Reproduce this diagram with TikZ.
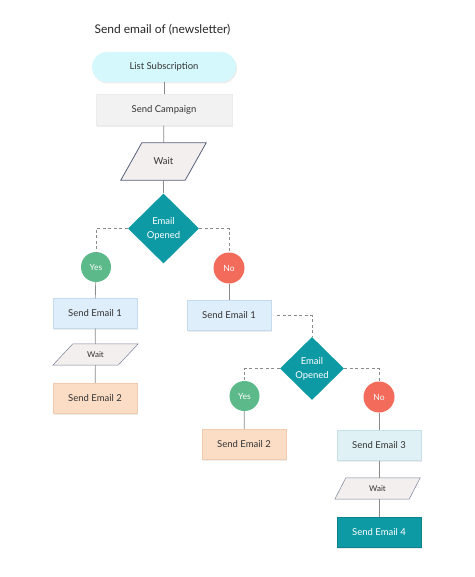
\documentclass[tikz,border=0pt]{standalone}
\usepackage{fontspec}
\setmainfont{Lato}
\usetikzlibrary{shapes.geometric,shadows}
\definecolor{pillfill}{HTML}{D4F8FC}
\definecolor{campfill}{HTML}{F2F2F2}
\definecolor{waitfill}{HTML}{F3EFEE}
\definecolor{waitline}{HTML}{56607A}
\definecolor{blueA}{HTML}{DFEEFB}
\definecolor{blueAline}{HTML}{C6DAEE}
\definecolor{peach}{HTML}{FBDCC4}
\definecolor{peachline}{HTML}{F0CBB0}
\definecolor{blueB}{HTML}{DFF1F5}
\definecolor{blueBline}{HTML}{C7E0E7}
\definecolor{teal}{HTML}{0E9AA5}
\definecolor{yesg}{HTML}{5CB98A}
\definecolor{nor}{HTML}{F26B5B}
\definecolor{linec}{HTML}{8A8A8A}
\tikzset{
  x=1pt,y=-1pt,
  every node/.style={font=\fontsize{9.5}{11}\selectfont, text=black!80},
  sh/.style={drop shadow={shadow xshift=1pt,shadow yshift=-1.5pt,opacity=0.15}},
  pill/.style={rectangle,rounded corners=15pt,minimum width=144pt,minimum height=30pt,fill=pillfill,sh},
  boxA/.style={rectangle,minimum width=136pt,minimum height=31pt,fill=campfill,draw=black!8,sh},
  boxE/.style={rectangle,minimum width=84pt,minimum height=30pt,sh},
  waitbox/.style={rectangle,inner sep=0pt},
  waitshape/.style={fill=waitfill,draw=waitline,line width=0.8pt},
  waitshapesm/.style={fill=waitfill,draw=waitline!80,line width=0.5pt},
  dec/.style={diamond,aspect=1,fill=teal,text=white,align=center,inner sep=0pt,font=\fontsize{9.5}{14}\selectfont},
  yes/.style={circle,fill=yesg,text=white,minimum size=30pt,inner sep=0pt,font=\fontsize{8.5}{10}\selectfont},
  no/.style={circle,fill=nor,text=white,minimum size=31pt,inner sep=0pt,font=\fontsize{8.5}{10}\selectfont},
  conn/.style={draw=linec,line width=0.7pt},
  dconn/.style={draw=linec,line width=0.7pt,dash pattern=on 3pt off 2.5pt},
}
\newcommand{\parallelo}[3]{%
  \path[#3] ([xshift=#2]#1.north west) -- (#1.north east) -- ([xshift=-#2]#1.south east) -- (#1.south west) -- cycle;}
\begin{document}
\begin{tikzpicture}
\useasboundingbox (0,0) rectangle (474,577);
\node[font=\fontsize{12}{14}\selectfont,text=black!85] (title) at (162.5,30) {Send email of (newsletter)};
\node[pill] (list) at (164,67) {List Subscription};
\node[boxA] (camp) at (164,110) {Send Campaign};
\node[waitbox,minimum width=85pt,minimum height=37pt] (wait) at (163.5,161.5) {};
\node[waitbox,minimum width=85pt,minimum height=21pt] (w2) at (95.5,354.5) {};
\node[waitbox,minimum width=85pt,minimum height=21pt] (w3) at (377.5,488.5) {};
\parallelo{wait}{21pt}{waitshape}
\parallelo{w2}{20pt}{waitshapesm}
\parallelo{w3}{11pt}{waitshapesm}
\node at (wait.center) {Wait};
\node[font=\fontsize{8}{9}\selectfont] at (w2.center) {Wait};
\node[font=\fontsize{8}{9}\selectfont] at (w3.center) {Wait};
\node[dec,minimum width=71pt,minimum height=70pt] (d1) at (163.5,228.5) {Email\\Opened};
\node[yes] (yes1) at (96,267) {Yes};
\node[no] (no1) at (229,268) {No};
\node[boxE,fill=blueA,draw=blueAline] (e1l) at (95,313.5) {Send Email 1};
\node[boxE,fill=peach,draw=peachline] (e2l) at (95,398) {Send Email 2};
\node[boxE,fill=blueA,draw=blueAline] (e1r) at (229,315.5) {Send Email 1};
\node[dec,minimum width=64pt,minimum height=63pt] (d2) at (312,368.5) {Email\\Opened};
\node[yes] (yes2) at (244.5,396) {Yes};
\node[no] (no2) at (379,397) {No};
\node[boxE,fill=peach,draw=peachline] (e2r) at (244,444) {Send Email 2};
\node[boxE,fill=blueB,draw=blueBline] (e3) at (379,445.5) {Send Email 3};
\node[boxE,fill=teal,draw=teal!85!black,text=white] (e4) at (379,532) {Send Email 4};
\draw[conn] (list) -- (camp);
\draw[conn] (camp) -- (wait);
\draw[conn] (wait.south) -- (d1.north);
\draw[dconn] (d1.west) -| (yes1.north);
\draw[dconn] (d1.east) -| (no1.north);
\draw[conn] (yes1) -- (e1l);
\draw[conn] (no1) -- (e1r);
\draw[conn] (e1l) -- (w2);
\draw[conn] (w2) -- (e2l);
\draw[dconn] ([xshift=6pt]e1r.east) -| (d2.north);
\draw[dconn] (d2.west) -| (yes2.north);
\draw[dconn] (d2.east) -| (no2.north);
\draw[conn] (yes2) -- (e2r);
\draw[conn] (no2) -- (e3);
\draw[conn] (e3.south) -- (e3.south |- w3.north);
\draw[conn] (e4.north |- w3.south) -- (e4.north);
\end{tikzpicture}
\end{document}
